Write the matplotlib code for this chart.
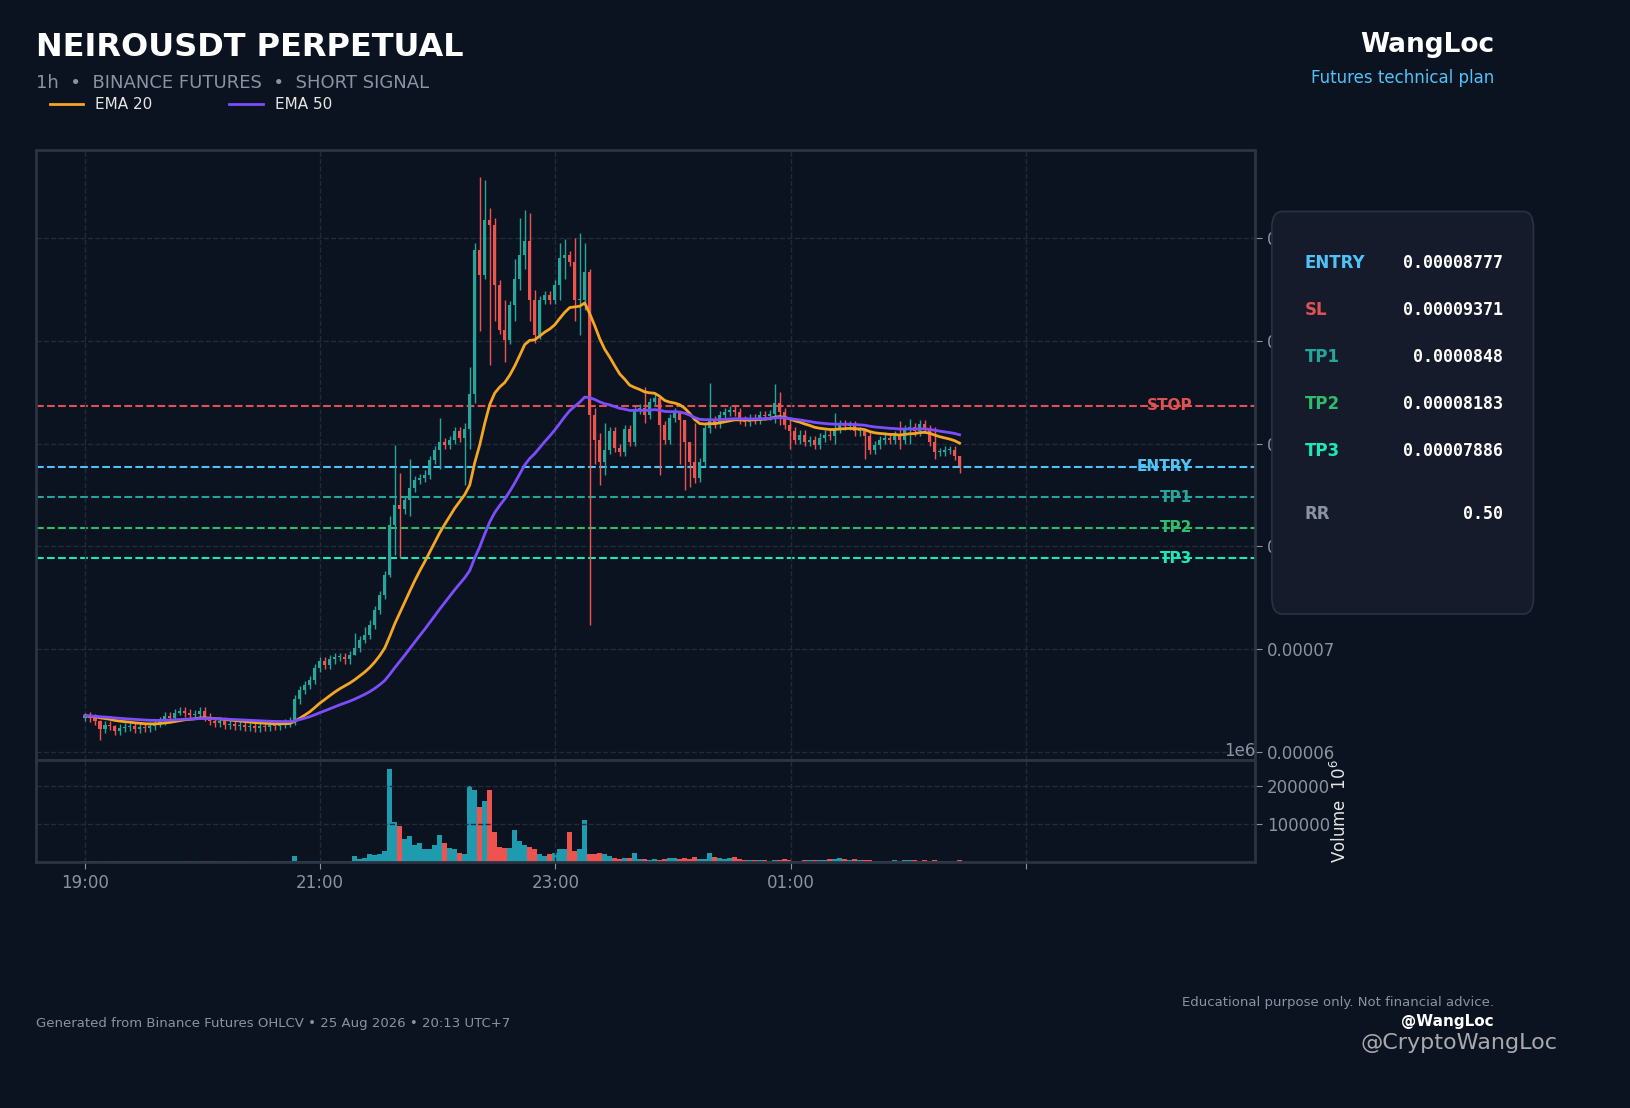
import numpy as np
import pandas as pd
import matplotlib
matplotlib.use("Agg")
import matplotlib.pyplot as plt
from matplotlib.patches import FancyBboxPatch

BG = '#0c1320'
UP = '#26a69a'
DN = '#ef5350'
GRID = '#232a38'

# closes in units of 1e-5, one candle every ~2.55 min from 19:00
closes = [6.35,6.33,6.30,6.22,6.26,6.25,6.20,6.23,6.24,6.25,6.22,6.24,6.23,6.25,6.28,6.30,6.35,6.33,6.38,6.40,
          6.38,6.36,6.37,6.40,6.34,6.30,6.28,6.30,6.26,6.27,6.25,6.26,6.24,6.25,6.23,6.25,6.24,6.26,6.25,6.27,
          6.28,6.30,
          6.51,6.60,6.65,6.70,6.82,6.88,6.85,6.90,6.92,6.92,6.90,6.94,7.01,7.09,7.14,7.24,7.38,7.53,7.72,8.21,
          8.40,8.36,8.45,8.57,8.65,8.67,8.70,8.84,8.94,9.02,8.99,9.04,9.12,9.06,9.14,9.48,10.89,10.64,11.18,11.13,
          10.55,10.11,10.01,10.35,10.60,10.84,10.97,10.40,10.06,10.40,10.45,10.40,10.55,10.81,10.84,10.77,10.40,10.40,
          10.67,9.28,9.04,8.82,8.94,9.12,8.96,8.92,9.14,9.02,9.33,9.35,9.28,9.41,9.45,9.18,9.04,9.25,9.31,9.23,
          9.02,8.82,8.67,8.82,9.15,9.23,9.19,9.28,9.31,9.33,9.31,9.23,9.21,9.25,9.23,9.28,9.27,9.29,9.40,9.31,
          9.18,9.12,9.04,9.09,9.02,9.04,8.99,9.06,9.09,9.08,9.14,9.19,9.17,9.18,9.12,9.12,9.08,8.94,8.99,9.04,
          9.06,9.04,9.08,9.04,9.14,9.16,9.12,9.19,9.14,9.02,8.92,8.92,8.94,8.94,8.88,8.78]

# notable wicks: index -> (high, low)
wicks = {0: (6.38, 6.30), 3: (6.31, 6.12), 6: (6.26, 6.16), 19: (6.44, 6.36), 54: (7.16, 6.96), 56: (7.22, 7.06),
         61: (8.30, 7.70), 62: (8.99, 7.92), 63: (8.72, 7.90), 65: (8.85, 8.30), 71: (9.25, 8.75),
         76: (9.20, 8.60), 77: (9.75, 8.95), 78: (10.95, 9.40), 79: (11.60, 10.10), 80: (11.57, 10.60),
         81: (11.30, 9.77), 82: (11.20, 10.20), 84: (10.40, 9.80), 86: (10.80, 10.20), 87: (11.20, 10.50),
         88: (11.28, 10.70), 89: (11.25, 10.20), 90: (10.50, 9.98), 95: (10.95, 10.40), 96: (10.99, 10.60),
         98: (11.00, 10.20), 99: (11.05, 10.06), 100: (10.95, 10.30), 101: (10.70, 7.24), 102: (9.35, 8.80),
         103: (9.10, 8.60), 104: (9.20, 8.70), 112: (9.55, 9.20), 115: (9.40, 8.70), 119: (9.25, 8.80),
         120: (9.05, 8.55), 121: (8.95, 8.58), 122: (9.20, 8.62), 125: (9.59, 9.10), 138: (9.58, 9.20),
         139: (9.50, 9.18), 141: (9.25, 8.95), 150: (9.30, 9.00), 156: (9.05, 8.85), 163: (9.22, 8.95),
         165: (9.24, 9.00), 170: (9.16, 8.85), 175: (8.88, 8.72)}

vols = [3,2,4,3,3,2,3,3,3,2,3,3,3,2,3,3,4,3,3,3,3,2,3,3,3,2,3,3,3,2,3,3,3,2,3,3,3,2,3,3,3,3,
        15,4,3,4,3,4,3,3,3,3,3,3,15,8,10,20,18,20,30,245,105,95,60,68,45,50,35,35,45,72,50,38,35,25,20,200,
        190,145,160,190,80,40,38,38,85,55,45,40,35,20,15,20,25,35,35,80,28,35,110,20,20,25,20,15,10,8,
        10,10,25,8,8,6,8,6,8,10,10,8,10,8,12,8,8,25,12,10,8,10,12,8,6,5,5,6,6,4,6,5,8,5,4,4,5,5,6,5,
        6,8,8,10,8,6,8,5,6,5,4,4,4,4,5,4,6,5,5,4,5,4,5,4,4,4,4,6]
n = len(closes)
vols = (vols + [4] * n)[:n]

step = 2.55
t = np.arange(n) * step
df = pd.DataFrame({'c': np.array(closes) * 1e-5, 'v': np.array(vols) * 1e3})
df['o'] = df['c'].shift(1).fillna(df['c'].iloc[0] - 0.02e-5)
hi = []
lo = []
for i in range(n):
    top = max(df['o'][i], df['c'][i]); bot = min(df['o'][i], df['c'][i])
    if i in wicks:
        hi.append(max(wicks[i][0] * 1e-5, top)); lo.append(min(wicks[i][1] * 1e-5, bot))
    else:
        hi.append(top + 0.04e-5); lo.append(bot - 0.04e-5)
df['h'] = hi
df['l'] = lo
df['ema20'] = df['c'].ewm(span=20, adjust=False).mean()
df['ema50'] = df['c'].ewm(span=50, adjust=False).mean()

levels = [('STOP', 0.00009371, '#e05252'), ('ENTRY', 0.00008777, '#4fc3f7'),
          ('TP1', 0.0000848, '#26a69a'), ('TP2', 0.00008183, '#2ebd6b'), ('TP3', 0.00007886, '#1de9b6')]

fig = plt.figure(figsize=(16.31, 11.08), dpi=100, facecolor=BG)
ax = fig.add_axes([0.022, 0.314, 0.7475, 0.5506])
axv = fig.add_axes([0.022, 0.222, 0.7475, 0.092], sharex=ax)
for a in (ax, axv):
    a.set_facecolor(BG)
    for s in a.spines.values():
        s.set_color('#2c3342'); s.set_linewidth(2)
    a.grid(True, color=GRID, ls='--', lw=1)
    a.tick_params(colors='#8a93a3', labelsize=12, length=5)
    a.yaxis.tick_right()

colors = [UP if c >= o else DN for o, c in zip(df['o'], df['c'])]
ax.vlines(t, df['l'], df['h'], colors=colors, lw=1, zorder=2)
ax.bar(t, (df['c'] - df['o']).abs().clip(lower=0.01e-5), bottom=df[['o', 'c']].min(axis=1),
       width=step * 0.65, color=colors, zorder=3)
ax.plot(t, df['ema20'], color='#f5a623', lw=2, zorder=4, label='EMA 20')
ax.plot(t, df['ema50'], color='#7c4dff', lw=2, zorder=4, label='EMA 50')
for name, val, col in levels:
    ax.axhline(val, color=col, ls='--', lw=1.5, zorder=1)
    ax.text(565, val, name, color=col, fontsize=11, fontweight='bold', ha='right', va='center', zorder=5)

ax.set_xlim(-25, 597)
ax.set_ylim(0.0000592, 0.0001186)
ax.set_yticks([0.00006, 0.00007, 0.00008, 0.00009, 0.0001, 0.00011])
ax.yaxis.set_major_formatter(plt.FuncFormatter(lambda v, p: ('%.5f' % v).rstrip('0')))
ax.tick_params(labelbottom=False)
ax.text(1.0, 0.0, '1e6', transform=ax.transAxes, color='#8a93a3', fontsize=12, ha='right', va='bottom')

axv.bar(t, df['v'], width=step * 0.95, color=[('#1f9bb0' if c == UP else DN) for c in colors])
axv.set_ylim(0, 268000)
axv.set_yticks([100000, 200000])
axv.set_xticks([0, 120, 240, 360, 480])
axv.set_xticklabels(['19:00', '21:00', '23:00', '01:00', ''])
axv.text(1.07, 0.5, r'Volume  $10^6$', transform=axv.transAxes, rotation=90, color='#e6e6e6',
         fontsize=12, ha='center', va='center')

leg = ax.legend(loc='lower left', bbox_to_anchor=(0.0, 1.04), ncol=2, frameon=False, fontsize=11,
                labelcolor='#e6e6e6', columnspacing=5, handlelength=2.2)

# info panel
axp = fig.add_axes([0.779, 0.444, 0.162, 0.367])
axp.set_xlim(0, 1); axp.set_ylim(0, 1); axp.axis('off')
axp.add_patch(FancyBboxPatch((0.005, 0.005), 0.99, 0.99, boxstyle='round,pad=0,rounding_size=0.04',
                             fc='#151b2a', ec='#2a3242', lw=1.2, transform=axp.transAxes))
rows = [('ENTRY', '0.00008777', '#4fc3f7', 0.868), ('SL', '0.00009371', '#e05252', 0.752),
        ('TP1', '0.0000848', '#26a69a', 0.637), ('TP2', '0.00008183', '#2ebd6b', 0.521),
        ('TP3', '0.00007886', '#1de9b6', 0.405), ('RR', '0.50', '#8a93a3', 0.250)]
for k, v, col, y in rows:
    axp.text(0.13, y, k, color=col, fontsize=12, fontweight='bold', va='center', family='DejaVu Sans')
    axp.text(0.88, y, v, color='white', fontsize=12, fontweight='bold', va='center', ha='right',
             family='DejaVu Sans Mono')

fig.text(0.022, 0.957, 'NEIROUSDT PERPETUAL', color='white', fontsize=23, fontweight='bold', va='center')
fig.text(0.022, 0.925, '1h  •  BINANCE FUTURES  •  SHORT SIGNAL', color='#8a93a3', fontsize=13, va='center')
fig.text(0.916, 0.959, 'WangLoc', color='white', fontsize=19, fontweight='bold', ha='right', va='center')
fig.text(0.916, 0.930, 'Futures technical plan', color='#4fc3f7', fontsize=12, ha='right', va='center')
fig.text(0.022, 0.076, 'Generated from Binance Futures OHLCV • 25 Aug 2026 • 20:13 UTC+7', color='#8a93a3',
         fontsize=9.5, va='center')
fig.text(0.916, 0.095, 'Educational purpose only. Not financial advice.', color='#8a93a3', fontsize=9.5,
         ha='right', va='center')
fig.text(0.916, 0.078, '@WangLoc', color='white', fontsize=11, fontweight='bold', ha='right', va='center')
fig.text(0.955, 0.059, '@CryptoWangLoc', color='#d0d0d0', fontsize=16, ha='right', va='center', alpha=0.8)

fig.savefig('out.png', dpi=100, facecolor=BG)
